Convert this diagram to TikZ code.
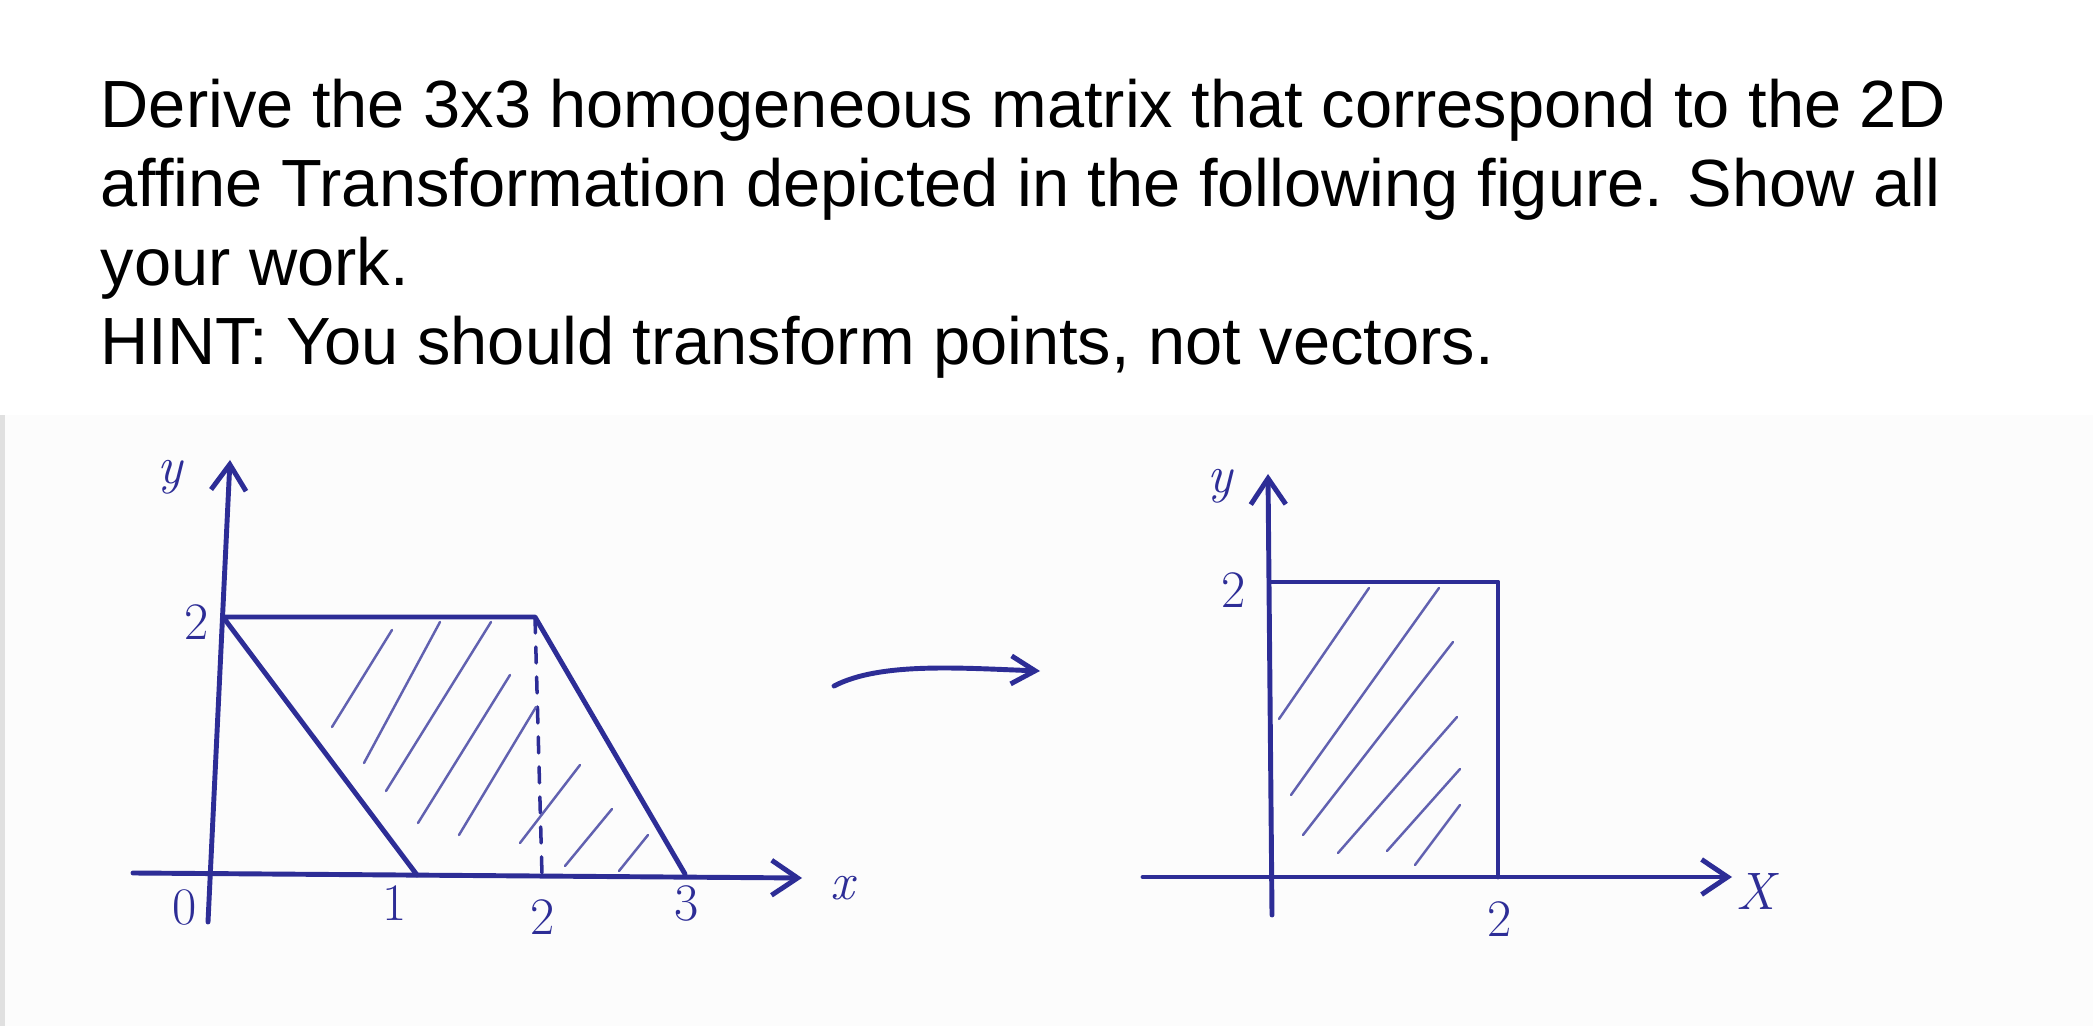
\documentclass[tikz,border=0pt]{standalone}
\usepackage{fontspec}
\newfontfamily\qfont{Liberation Sans}
\usetikzlibrary{arrows.meta}
\definecolor{pen}{RGB}{45,45,150}
\tikzset{
  pen/.style={draw=pen, line width=1.4pt, line cap=round, line join=round},
  hatch/.style={draw=pen!75, line width=0.7pt, line cap=round},
  barb/.style={-{Straight Barb[length=2.6mm,width=3.5mm,line width=1.4pt]}},
  lbl/.style={text=pen, inner sep=0pt, font=\fontsize{15}{17}\selectfont},
  qline/.style={anchor=base west, inner sep=0pt, font=\qfont\fontsize{19}{22}\selectfont}
}
\begin{document}
\begin{tikzpicture}[x=1cm,y=-1cm]
  \useasboundingbox (0,0) rectangle (20.93,10.26);
  % photo area
  \fill[black!1] (0,4.15) rectangle (20.93,10.26);
  \fill[black!12] (0,4.15) rectangle (0.05,10.26);

  % question
  \node[qline] (line1) at (1.00,1.28) {Derive the 3x3 homogeneous matrix that correspond to the 2D};
  \node[qline] (line2) at (1.00,2.07) {affine Transformation depicted in the following figure. Show all};
  \node[qline] (line3) at (1.00,2.86) {your work.};
  \node[qline] (line4) at (1.00,3.65) {HINT: You should transform points, not vectors.};

  % left figure
  \coordinate (xl0) at (1.33,8.73);
  \coordinate (xl1) at (8.02,8.78);
  \coordinate (yl0) at (2.08,9.22);
  \coordinate (yl1) at (2.30,4.60);
  \coordinate (p1) at (2.23,6.17);
  \coordinate (p2) at (5.35,6.17);
  \coordinate (p3) at (6.85,8.74);
  \coordinate (p4) at (4.17,8.75);
  \coordinate (d2) at (5.42,8.75);
  \draw[pen,barb] (xl0) -- (xl1);
  \draw[pen,barb] (yl0) -- (yl1);
  \draw[pen] (p4) -- (p1) -- (p2) -- (p3);
  \draw[pen,line width=1pt,dash pattern=on 0.16cm off 0.14cm] (p2) -- (d2);
  \begin{scope}[hatch]
    \draw (3.92,6.30) -- (3.32,7.27);
    \draw (4.40,6.22) -- (3.64,7.63);
    \draw (4.91,6.22) -- (3.86,7.91);
    \draw (5.10,6.75) -- (4.18,8.23);
    \draw (5.36,7.07) -- (4.59,8.35);
    \draw (5.80,7.65) -- (5.20,8.43);
    \draw (6.12,8.09) -- (5.65,8.66);
    \draw (6.48,8.35) -- (6.19,8.71);
  \end{scope}
  \node[lbl] (ly) at (1.70,4.77) {\itshape y};
  \node[lbl] (ly2) at (1.97,6.22) {2};
  \node[lbl] (lx0) at (1.85,9.07) {0};
  \node[lbl] (lx1) at (3.95,9.03) {1};
  \node[lbl] (lx2) at (5.43,9.17) {2};
  \node[lbl] (lx3) at (6.87,9.03) {3};
  \node[lbl] (lx) at (8.42,8.88) {\itshape x};

  % transformation arrow
  \coordinate (t0) at (8.34,6.86);
  \coordinate (t1) at (10.40,6.71);
  \draw[pen,-{Straight Barb[length=2.4mm,width=2.8mm,line width=1.4pt]}]
    (t0) .. controls (8.8,6.62) and (9.6,6.68) .. (t1);

  % right figure
  \coordinate (xr0) at (11.43,8.77);
  \coordinate (xr1) at (17.32,8.77);
  \coordinate (yr0) at (12.72,9.15);
  \coordinate (yr1) at (12.68,4.74);
  \coordinate (r1) at (12.71,5.82);
  \coordinate (r2) at (14.98,5.82);
  \coordinate (r3) at (14.98,8.77);
  \draw[pen,barb] (xr0) -- (xr1);
  \draw[pen,barb] (yr0) -- (yr1);
  \draw[pen] (r1) -- (r2) -- (r3);
  \begin{scope}[hatch]
    \draw (13.69,5.88) -- (12.79,7.19);
    \draw (14.39,5.88) -- (12.91,7.95);
    \draw (14.53,6.42) -- (13.03,8.35);
    \draw (14.57,7.17) -- (13.38,8.53);
    \draw (14.60,7.69) -- (13.87,8.51);
    \draw (14.60,8.05) -- (14.15,8.65);
  \end{scope}
  \node[lbl] (ry) at (12.20,4.86) {\itshape y};
  \node[lbl] (ry2) at (12.34,5.90) {2};
  \node[lbl] (rx2) at (15.00,9.19) {2};
  \node[lbl] (rx) at (17.56,8.91) {\itshape X};
\end{tikzpicture}
\end{document}
